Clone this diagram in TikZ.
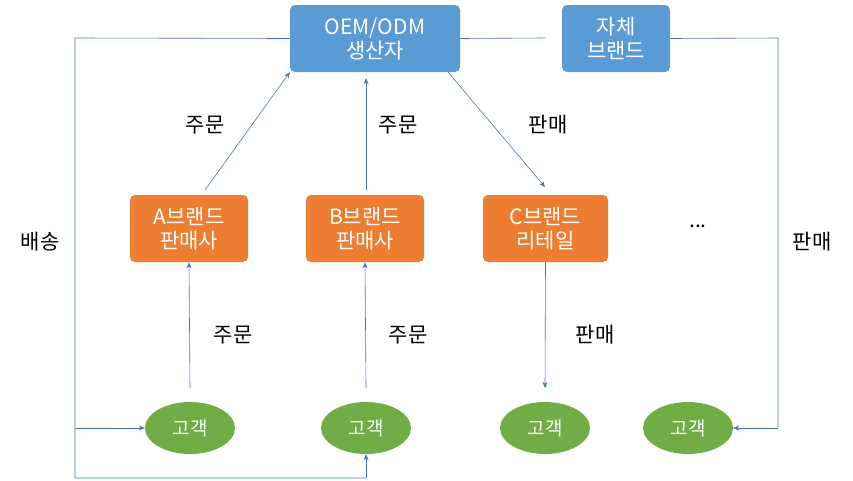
\documentclass[tikz,border=0pt]{standalone}
\usepackage{fontspec}
\setmainfont{Noto Sans CJK KR}
\usetikzlibrary{arrows.meta,shapes.geometric}
\definecolor{bl}{HTML}{5B9BD5}
\definecolor{og}{HTML}{ED7D31}
\definecolor{gr}{HTML}{70AD47}
\definecolor{ln}{HTML}{4472C4}
\begin{document}
\begin{tikzpicture}[x=1pt,y=-1pt,
 box/.style={rounded corners=5pt,text=white,font=\fontsize{21}{24}\selectfont,align=center,inner sep=0pt},
 ell/.style={ellipse,fill=gr,text=white,minimum width=90pt,minimum height=52pt,font=\fontsize{19}{22}\selectfont,inner sep=0pt},
 con/.style={draw=ln,line width=0.6pt},
 arr/.style={con,-{Stealth[length=6pt,width=5pt]}},
 lab/.style={font=\fontsize{21}{24}\selectfont}]
\useasboundingbox (0,0) rectangle (853,480);
\node[box,fill=bl,minimum width=170pt,minimum height=67pt] (oem) at (375,38.5) {OEM/ODM\\생산자};
\node[box,fill=bl,minimum width=108pt,minimum height=67pt] (own) at (616,38.5) {자체\\브랜드};
\node[box,fill=og,minimum width=118pt,minimum height=67pt] (a) at (189,228.5) {A브랜드\\판매사};
\node[box,fill=og,minimum width=118pt,minimum height=67pt] (b) at (365,228.5) {B브랜드\\판매사};
\node[box,fill=og,minimum width=125pt,minimum height=67pt] (c) at (545.5,228.5) {C브랜드\\리테일};
\node[ell] (g1) at (190,428) {고객};
\node[ell] (g2) at (366,428) {고객};
\node[ell] (g3) at (545,428) {고객};
\node[ell] (g4) at (688,428) {고객};
\coordinate (l1) at (75,38);
\coordinate (l2) at (75,478);
\coordinate (l3) at (366,478);
\coordinate (l4) at (75,428);
\coordinate (r1) at (778,38);
\coordinate (r2) at (778,428);
\coordinate (m) at (545,38);
\draw[con] (oem.west) -- (l1) -- (l2) -- (l3);
\draw[arr] (l3) -- (g2.south);
\draw[arr] (l4) -- (g1.west);
\draw[con] (own.east) -- (r1) -- (r2);
\draw[arr] (r2) -- (g4.east);
\draw[con] (oem.east) -- (m);
\draw[arr] (205,190) -- (oem.south west);
\draw[arr] (366,190) -- (366,78);
\draw[arr] (448,72) -- (545,187);
\draw[arr] (190,388) -- (a.south);
\draw[arr] (366,388) -- (b.south);
\draw[arr] (c.south) -- (545,388);
\node[lab] (t1) at (205,125) {주문};
\node[lab] (t2) at (398,125) {주문};
\node[lab] (t3) at (548,125) {판매};
\node[lab] (t4) at (233,335) {주문};
\node[lab] (t5) at (408,335) {주문};
\node[lab] (t6) at (595,335) {판매};
\node[lab] (t7) at (40,242) {배송};
\node[lab] (t8) at (812,242) {판매};
\node[lab] (t9) at (698,226) {...};
\end{tikzpicture}
\end{document}
